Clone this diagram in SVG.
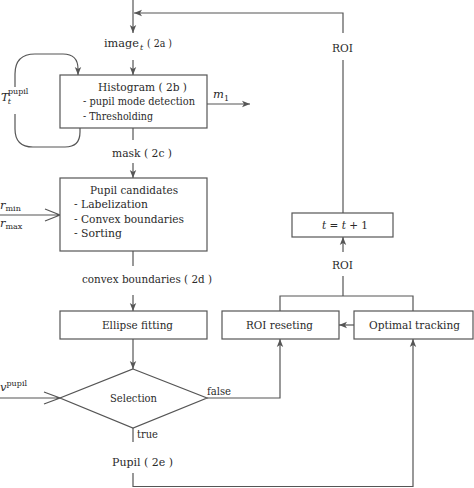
<svg xmlns="http://www.w3.org/2000/svg" width="474" height="488" viewBox="0 0 474 488">
<style>
text{font-family:"DejaVu Serif","Liberation Serif",serif;font-size:11.5px;fill:#2a2a2a}
.i{font-style:italic}
.s{font-size:8px}
.box{fill:#fff;stroke:#555;stroke-width:1.2}
.ln{fill:none;stroke:#555;stroke-width:1.2}
.ar{marker-end:url(#ah)}
</style>
<defs>
<marker id="ah" markerUnits="userSpaceOnUse" markerWidth="10" markerHeight="8" refX="8" refY="4" orient="auto">
<path d="M0,0.8 L8,4 L0,7.2 L2,4 z" fill="#555"/>
</marker>
</defs>
<rect width="474" height="488" fill="#fff"/>
<g id="connectors">
<path class="ln ar" d="M133,0 V33"/>
<path class="ln ar" d="M343,33 V13 H134"/>
<path class="ln ar" d="M133,60 V75"/>
<path class="ln" d="M80,128 V132 Q80,147 65,147 H33 Q15,147 15,129 V114"/>
<path class="ln ar" d="M15,87 V74 Q15,54 35,54 H63 Q78,54 78,69 V75"/>
<path class="ln ar" d="M207,104 H250"/>
<path class="ln" d="M133,128 V140"/>
<path class="ln ar" d="M133,163 V178"/>
<path class="ln" d="M0,215 H60 M45,209 L60,215 L45,221"/>
<path class="ln" d="M133,251 V266"/>
<path class="ln ar" d="M133,295 V311"/>
<path class="ln ar" d="M133,339 V369"/>
<path class="ln" d="M0,398 H60 M44,392 L60,398 L44,404"/>
<path class="ln" d="M133,428 V442"/>
<path class="ln ar" d="M133,473 V486.5 H413 V339"/>
<path class="ln ar" d="M207,398 H280 V339"/>
<path class="ln ar" d="M354,325 H339"/>
<path class="ln" d="M280,311 V296 H413 V311 M343,296 V276"/>
<path class="ln ar" d="M343,252 V237"/>
<path class="ln" d="M343,213 V60"/>
</g>
<g id="label-image">
<text x="104" y="47" textLength="35" lengthAdjust="spacingAndGlyphs">image</text>
<text x="140" y="50" class="i s">t</text>
<text x="147" y="47" textLength="25" lengthAdjust="spacingAndGlyphs">( 2a )</text>
</g>
<g id="histogram">
<rect class="box" x="60" y="75" width="147" height="53"/>
<text x="98" y="91" textLength="89" lengthAdjust="spacingAndGlyphs">Histogram ( 2b )</text>
<text x="83" y="105" textLength="112" lengthAdjust="spacingAndGlyphs">- pupil mode detection</text>
<text x="83" y="119.5" textLength="70" lengthAdjust="spacingAndGlyphs">- Thresholding</text>
</g>
<g id="label-T"><text x="1" y="101" class="i">T<tspan class="s" dx="-1" dy="3">t</tspan><tspan class="s" style="font-style:normal" dx="-3" dy="-10">pupil</tspan></text></g>
<g id="label-m1"><text x="213" y="98" class="i">m<tspan class="s" style="font-style:normal" dy="3">1</tspan></text></g>
<g id="label-mask"><text x="112" y="157" textLength="60" lengthAdjust="spacingAndGlyphs">mask ( 2c )</text></g>
<g id="pupil-candidates">
<rect class="box" x="60" y="178" width="147" height="73"/>
<text x="90" y="193.5" textLength="88" lengthAdjust="spacingAndGlyphs">Pupil candidates</text>
<text x="74" y="208" textLength="74" lengthAdjust="spacingAndGlyphs">- Labelization</text>
<text x="74" y="222.5" textLength="110" lengthAdjust="spacingAndGlyphs">- Convex boundaries</text>
<text x="74" y="237" textLength="48" lengthAdjust="spacingAndGlyphs">- Sorting</text>
</g>
<g id="label-r">
<text x="0" y="209" class="i">r<tspan class="s" style="font-style:normal" dy="2">min</tspan></text>
<text x="0" y="227" class="i">r<tspan class="s" style="font-style:normal" dy="2">max</tspan></text>
</g>
<g id="label-convex"><text x="82" y="283" textLength="130" lengthAdjust="spacingAndGlyphs">convex boundaries ( 2d )</text></g>
<g id="ellipse-fitting">
<rect class="box" x="60" y="311" width="147" height="28"/>
<text x="102" y="329" textLength="71" lengthAdjust="spacingAndGlyphs">Ellipse fitting</text>
</g>
<g id="selection">
<polygon class="box" points="133,369 207,398 133,428 60,398"/>
<text x="110" y="402" textLength="47" lengthAdjust="spacingAndGlyphs">Selection</text>
</g>
<g id="label-v"><text x="0" y="391" class="i">v<tspan class="s" style="font-style:normal" dy="-5">pupil</tspan></text></g>
<g id="label-false"><text x="207" y="395" textLength="24" lengthAdjust="spacingAndGlyphs">false</text></g>
<g id="label-true"><text x="137" y="438" textLength="21" lengthAdjust="spacingAndGlyphs">true</text></g>
<g id="label-pupil"><text x="112" y="466" textLength="61" lengthAdjust="spacingAndGlyphs">Pupil ( 2e )</text></g>
<g id="roi-reseting">
<rect class="box" x="222" y="311" width="117" height="28"/>
<text x="246" y="329" textLength="67" lengthAdjust="spacingAndGlyphs">ROI reseting</text>
</g>
<g id="optimal-tracking">
<rect class="box" x="354" y="311" width="119" height="28"/>
<text x="369" y="329" textLength="91" lengthAdjust="spacingAndGlyphs">Optimal tracking</text>
</g>
<g id="label-roi-mid"><text x="332" y="269" textLength="21" lengthAdjust="spacingAndGlyphs">ROI</text></g>
<g id="t-increment">
<rect class="box" x="292" y="213" width="101" height="24"/>
<text x="322" y="229" textLength="46" lengthAdjust="spacingAndGlyphs"><tspan class="i">t</tspan> = <tspan class="i">t</tspan> + 1</text>
</g>
<g id="label-roi-top"><text x="332" y="52" textLength="21" lengthAdjust="spacingAndGlyphs">ROI</text></g>
</svg>
